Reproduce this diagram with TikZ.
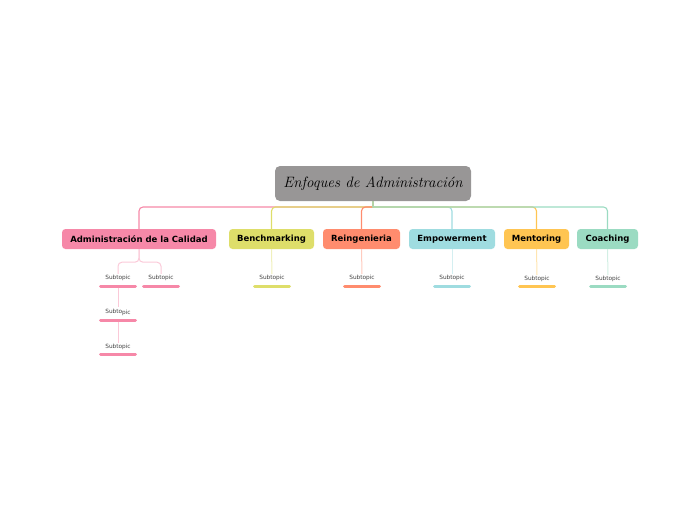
\documentclass[tikz,border=0pt]{standalone}
\usepackage{fontspec}
\newfontfamily\djv{DejaVu Sans}
\definecolor{rootc}{HTML}{989696}
\definecolor{pinkc}{HTML}{F688A8}
\definecolor{yelc}{HTML}{DEDE6A}
\definecolor{salc}{HTML}{FF8C6E}
\definecolor{cyanc}{HTML}{9FDCE0}
\definecolor{orac}{HTML}{FFC552}
\definecolor{mintc}{HTML}{9BDBC2}
\definecolor{subtxt}{HTML}{444444}
\begin{document}
\begin{tikzpicture}[x=1pt,y=-1pt,
  rootbox/.style={fill=rootc,rounded corners=5pt,minimum width=196pt,minimum height=35pt,inner sep=0pt,
    font=\fontsize{15}{17}\selectfont\itshape,text=black},
  branch/.style={fill=#1,rounded corners=3.5pt,minimum height=20pt,inner sep=0pt,
    font=\djv\bfseries\fontsize{8.5}{10}\selectfont,text=black},
  subnode/.style={inner sep=1pt,font=\djv\fontsize{5.8}{7}\selectfont,text=subtxt},
  link/.style={draw=#1,line width=1.1pt},
  sublink/.style={draw=#1!45,line width=1pt,rounded corners=4pt},
  uline/.style={draw=#1,line width=3pt,line cap=round}]
\useasboundingbox (0,0) rectangle (697,520);

% branches
\node[branch=pinkc,minimum width=154pt] (adm) at (139,239) {Administración de la Calidad};
\node[branch=yelc,minimum width=85pt] (ben) at (271.5,239) {Benchmarking};
\node[branch=salc,minimum width=77pt] (rei) at (361.5,239) {Reingenieria};
\node[branch=cyanc,minimum width=86pt] (emp) at (452,239) {Empowerment};
\node[branch=orac,minimum width=65pt] (men) at (536.5,239) {Mentoring};
\node[branch=mintc,minimum width=61pt] (coa) at (607.5,239) {Coaching};

% root position (drawn after connectors)
\coordinate (rootc) at (373,183.5);
\coordinate (rootb) at (373,201);

% root connectors
\draw[link=pinkc] (rootb) -- ++(0,6) [rounded corners=4pt] -| (adm.north);
\draw[link=yelc] (rootb) -- ++(0,6) [rounded corners=4pt] -| (ben.north);
\draw[link=salc] (rootb) -- ++(0,6) [rounded corners=4pt] -| (rei.north);
\draw[link=cyanc] (rootb) -- ++(0,6) [rounded corners=4pt] -| (emp.north);
\draw[link=orac] (rootb) -- ++(0,6) [rounded corners=4pt] -| (men.north);
\draw[link=mintc] (rootb) -- ++(0,6) [rounded corners=4pt] -| (coa.north);

% root
\node[rootbox] (root) at (rootc) {Enfoques de Administración};

% subtopics
\node[subnode] (s1) at (118,278) {Subtopic};
\node[subnode] (s2) at (161,278) {Subtopic};
\node[subnode] (s3) at (118,312) {Subto\raisebox{-1.2pt}{pic}};
\node[subnode] (s4) at (118,347) {Subtopic};
\node[subnode] (b1) at (272,278) {Subtopic};
\node[subnode] (r1) at (362,278) {Subtopic};
\node[subnode] (e1) at (452,278) {Subtopic};
\node[subnode] (m1) at (537,279) {Subtopic};
\node[subnode] (c1) at (608,279) {Subtopic};

% underlines
\coordinate (u1a) at (100.5,286); \coordinate (u1b) at (135.5,286);
\coordinate (u2a) at (143.5,286); \coordinate (u2b) at (178.5,286);
\coordinate (u3a) at (100.5,320); \coordinate (u3b) at (135.5,320);
\coordinate (u4a) at (100.5,354); \coordinate (u4b) at (135.5,354);
\coordinate (ub1) at (254.5,286); \coordinate (ub2) at (289.5,286);
\coordinate (ur1) at (344.5,286); \coordinate (ur2) at (379.5,286);
\coordinate (ue1) at (434.5,286); \coordinate (ue2) at (469.5,286);
\coordinate (um1) at (519.5,286); \coordinate (um2) at (554.5,286);
\coordinate (uc1) at (590.5,286); \coordinate (uc2) at (625.5,286);
\draw[uline=pinkc] (u1a) -- (u1b);
\draw[uline=pinkc] (u2a) -- (u2b);
\draw[uline=pinkc] (u3a) -- (u3b);
\draw[uline=pinkc] (u4a) -- (u4b);
\draw[uline=yelc] (ub1) -- (ub2);
\draw[uline=salc] (ur1) -- (ur2);
\draw[uline=cyanc] (ue1) -- (ue2);
\draw[uline=orac] (um1) -- (um2);
\draw[uline=mintc] (uc1) -- (uc2);

% subtopic connectors
\draw[sublink=pinkc] (adm.south) -- ++(0,13) -| (s1.north);
\draw[sublink=pinkc] (adm.south) -- ++(0,13) -| (s2.north);
\coordinate (d1) at (118,287.5);
\coordinate (d3) at (118,321.5);
\draw[sublink=pinkc] (d1) -- (s3.north);
\draw[sublink=pinkc] (d3) -- (s4.north);
\draw[sublink=yelc] (ben.south) -- (b1.north);
\draw[sublink=salc] (rei.south) -- (r1.north);
\draw[sublink=cyanc] (emp.south) -- (e1.north);
\draw[sublink=orac] (men.south) -- (m1.north);
\draw[sublink=mintc] (coa.south) -- (c1.north);
\end{tikzpicture}
\end{document}
